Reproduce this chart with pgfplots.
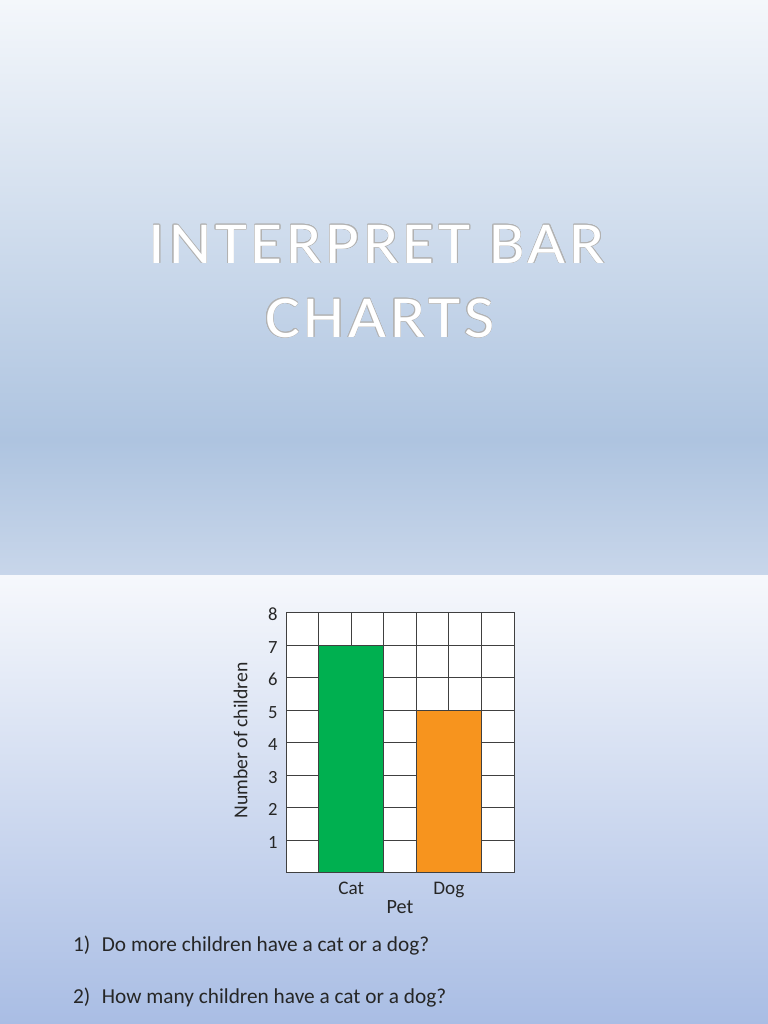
\documentclass[border=0pt]{standalone}
\usepackage{pgfplots}
\pgfplotsset{compat=1.18}
\usepackage{fontspec}
\setmainfont{Carlito}
\usepackage{contour}
\contourlength{0.45bp}
\definecolor{topA}{HTML}{F4F7FB}
\definecolor{topB}{HTML}{AEC4E0}
\definecolor{topC}{HTML}{C8D6EA}
\definecolor{botA}{HTML}{F6F8FC}
\definecolor{botB}{HTML}{A9BDE4}
\definecolor{catgreen}{HTML}{00B050}
\definecolor{dogorange}{HTML}{F7941E}
\definecolor{gridc}{HTML}{404040}
\definecolor{txt}{HTML}{262626}
\newfontfamily\titlefont[FakeStretch=1.1, LetterSpace=6.4]{Carlito}
\begin{document}
\begin{tikzpicture}[x=1bp,y=1bp]
\useasboundingbox (0,0) rectangle (768,1024);
% top slide
\shade[top color=topA, bottom color=topB] (0,584) rectangle (768,1024);
\shade[top color=topB, bottom color=topC] (0,448) rectangle (768,584.5);
% bottom slide
\shade[top color=botA, bottom color=botB] (0,0) rectangle (768,448);
% title
\node[anchor=base, text=white, font=\titlefont\fontsize{59.5bp}{70bp}\selectfont, inner sep=0] at (377,760.7) {\contour{black!30}{INTERPRET BAR}};
\node[anchor=base, text=white, font=\titlefont\fontsize{59.5bp}{70bp}\selectfont, inner sep=0] at (379.7,686.7) {\contour{black!30}{CHARTS}};
% questions
\node[anchor=base west, text=txt, font=\fontsize{21.3bp}{24bp}\selectfont, inner sep=0] at (73,72.3) {1)};
\node[anchor=base west, text=txt, font=\fontsize{21.3bp}{24bp}\selectfont, inner sep=0] at (101.7,72.3) {Do more children have a cat or a dog?};
\node[anchor=base west, text=txt, font=\fontsize{21.3bp}{24bp}\selectfont, inner sep=0] at (73,20.7) {2)};
\node[anchor=base west, text=txt, font=\fontsize{21.3bp}{24bp}\selectfont, inner sep=0] at (101.7,20.7) {How many children have a cat or a dog?};
\begin{axis}[
  at={(286bp,151.3bp)}, anchor=south west,
  scale only axis, width=228bp, height=260bp,
  xmin=0, xmax=7, ymin=0, ymax=8,
  xtick={0,...,7}, xticklabels={,,Cat,,,Dog,,},
  ytick={1,...,8},
  grid=major,
  major grid style={gridc, line width=0.9bp},
  axis line style={gridc, line width=0.9bp},
  major tick length=0pt,
  axis background/.style={fill=white},
  /pgf/number format/assume math mode=true,
  xticklabel style={font=\fontsize{19.2bp}{20bp}\selectfont, text=txt, anchor=base, yshift=-21.6bp},
  yticklabel style={font=\fontsize{18.6bp}{20bp}\selectfont, text=txt, inner sep=0pt, xshift=-8.3bp, yshift=-2bp},
  xlabel={Pet},
  xlabel style={at={(axis description cs:0.5,-0.156)}, anchor=base, font=\fontsize{20.2bp}{22bp}\selectfont, text=txt},
  ylabel={Number of children},
  ylabel style={at={(axis description cs:-0.1535,0.508)}, anchor=south, font=\fontsize{19.7bp}{22bp}\selectfont, text=txt},
  ybar, bar width=2,
]
\addplot[fill=catgreen, draw=gridc, line width=0.9bp, bar shift=0] coordinates {(2,7)};
\addplot[fill=dogorange, draw=gridc, line width=0.9bp, bar shift=0] coordinates {(5,5)};
\end{axis}
\end{tikzpicture}
\end{document}
